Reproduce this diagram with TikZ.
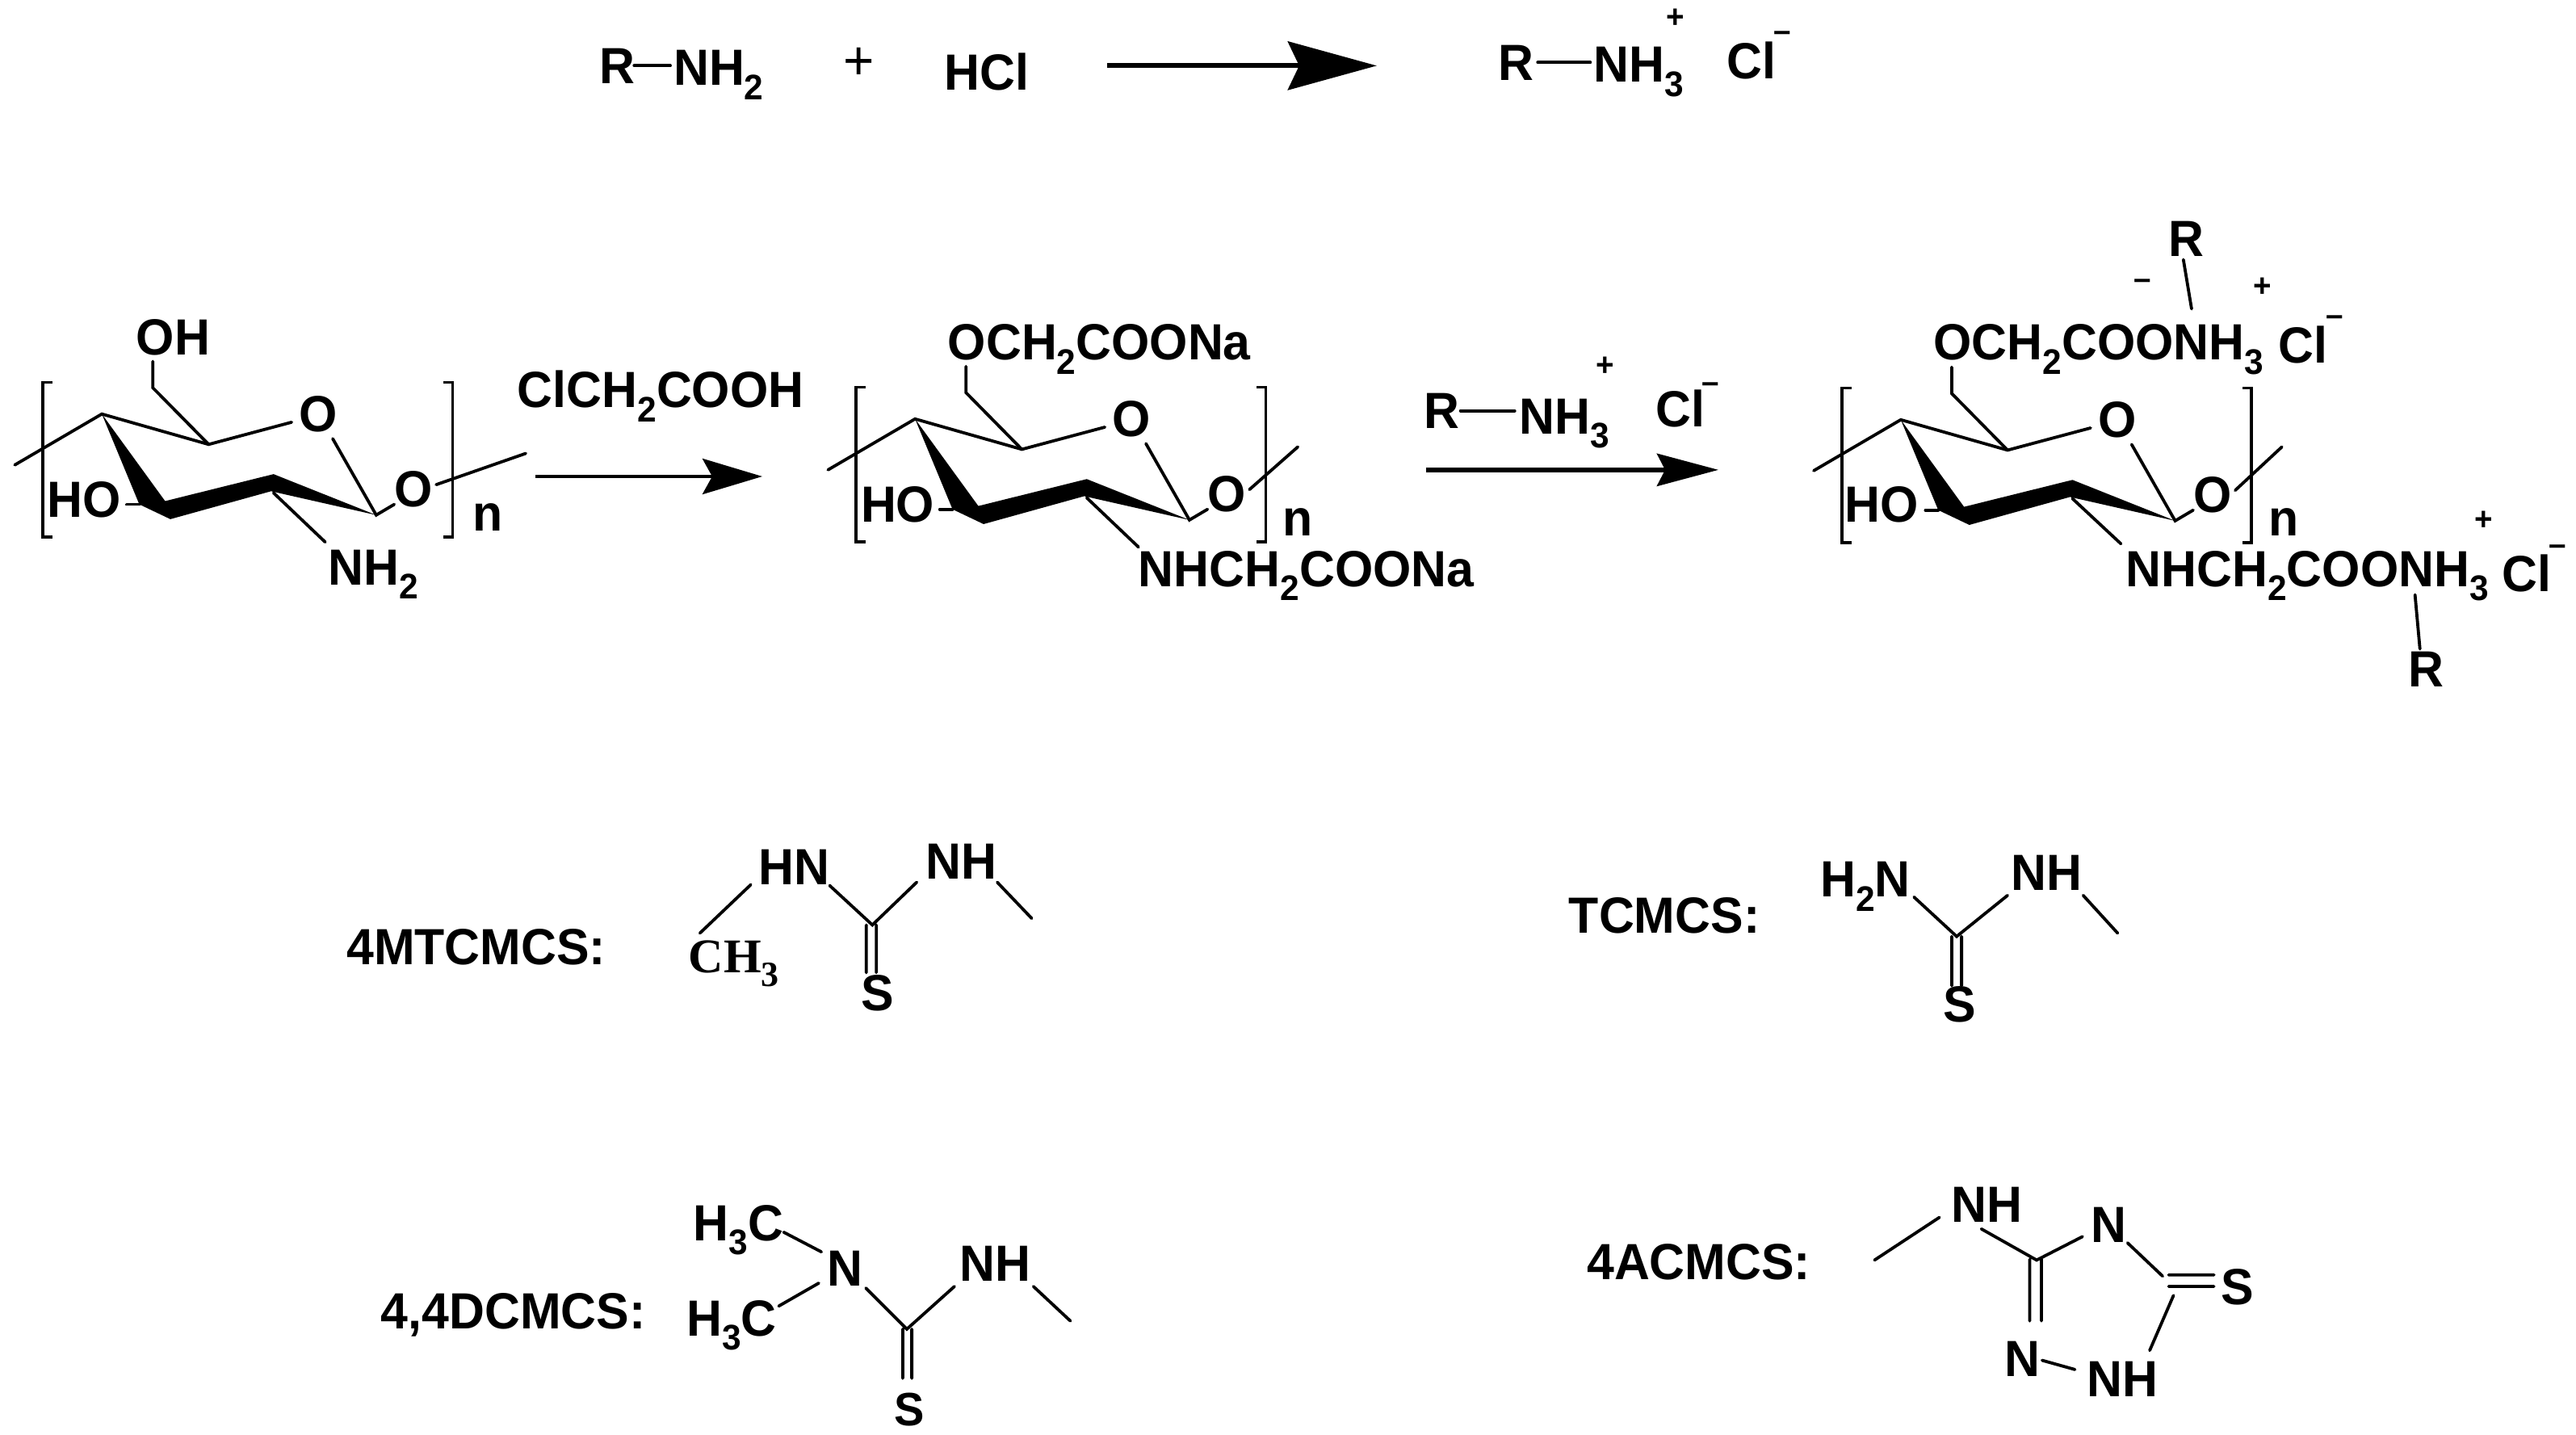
\documentclass[tikz,border=0pt]{standalone}
\usepackage{fontspec}
\setmainfont{Liberation Sans}[FakeStretch=0.965]
\newfontfamily\serifchem{Liberation Serif}
\usetikzlibrary{arrows.meta}
\newcommand\lsub[1]{\raisebox{-0.28em}{\fontsize{22}{22}\selectfont #1}}
\tikzset{
  bond/.style={line width=1.9pt,line cap=round,black},
  bracket/.style={line width=1.9pt,black},
  chem/.style={inner sep=0pt,outer sep=0pt,anchor=base west,font=\fontsize{31.5}{31.5}\selectfont\bfseries},
  charge/.style={inner sep=0pt,outer sep=0pt,font=\fontsize{20}{20}\selectfont\bfseries},
  bigarrow/.style={line width=3pt,-{Stealth[length=55pt,width=30pt,inset=7pt]}},
  midarrow/.style={line width=3pt,-{Stealth[length=38pt,width=20pt,inset=5pt]}},
  smallarrow/.style={line width=2.4pt,-{Stealth[length=37pt,width=22pt,inset=6pt]}},
}
% ring: #1 prefix, #2 dx, #3 dy, #4 right stub end
\newcommand\sugar[4]{%
  \begin{scope}[shift={(#2,#3)}]
    \coordinate (#1a) at (62,252);
    \coordinate (#1s) at (9,283);
    \coordinate (#1b) at (127,270.5);
    \coordinate (#1c) at (93,236);
    \coordinate (#1ct) at (93,220);
    \coordinate (#1ot) at (177.5,257);
    \coordinate (#1or) at (202.5,267);
    \coordinate (#1d) at (229,313.5);
    \coordinate (#1oa) at (240,307);
    \coordinate (#1ob) at (265.5,295);
    \coordinate (#1e) at (100.5,305);
    \coordinate (#1f) at (166.5,288.6);
    \coordinate (#1g) at (165,299);
    \coordinate (#1h) at (103.7,316);
    \coordinate (#1i) at (84.8,307);
    \coordinate (#1ho) at (77,307);
    \fill (#1a) -- (#1e) -- (#1f) -- (#1d) -- (#1g) -- (#1h) -- (#1i) -- cycle;
    \draw[bond] (#1s) -- (#1a) -- (#1b) -- (#1ot);
    \draw[bond] (#1b) -- (#1c) -- (#1ct);
    \draw[bond] (#1or) -- (#1d) -- (#1oa);
    \draw[bond] (#1ho) -- (#1i);
    \draw[bracket] (32,232.7) -- (26,232.7) -- (26,327) -- (32,327);
    \draw[bracket] (270,232.7) -- (275.5,232.7) -- (275.5,327) -- (270,327);
    \node[chem] (#1O) at (182,262.5) {O};
    \node[chem] (#1Ob) at (240,308.5) {O};
  \end{scope}
  \coordinate (#1out) at #4;
  \draw[bond] (#1ob) -- (#1out);
}
\begin{document}
\begin{tikzpicture}[x=1.0172pt,y=-1.0172pt]
\useasboundingbox (0,0) rectangle (1568,873.4);
% ---- top row
\node[chem] (r1) at (365,51) {R};
\node[chem] (nh2top) at (410,52) {NH\lsub{2}};
\coordinate (t1a) at (386,40); \coordinate (t1b) at (408,40);
\draw[bond] (t1a) -- (t1b);
\node[inner sep=0pt,font=\fontsize{34}{34}\selectfont] (plus) at (523,39) {+};
\node[chem] (hcl) at (575,55) {HCl};
\coordinate (a1s) at (674,40); \coordinate (a1e) at (838,40);
\draw[bigarrow] (a1s) -- (a1e);
\node[chem] (r2) at (912,49) {R};
\node[chem] (nh3top) at (970,50) {NH\lsub{3}};
\coordinate (t2a) at (936,38); \coordinate (t2b) at (968,38);
\draw[bond] (t2a) -- (t2b);
\node[charge] (p1) at (1020,11) {+};
\node[chem] (cl1) at (1051,48) {Cl};
\node[charge] (m1) at (1085,22) {--};
% ---- sugar rings
\sugar{A}{0}{0}{(320,276)}
\sugar{B}{495}{3}{(790,272)}
\sugar{C}{1095}{3.5}{(1389,272)}
% first
\node[chem] (oh) at (83,216) {OH};
\node[chem] (ho1) at (29,315) {HO};
\node[chem] (nh2) at (200,356) {NH\lsub{2}};
\coordinate (An) at (166.5,300); \coordinate (Ann) at (198,330);
\draw[bond] (An) -- (Ann);
\node[chem] (n1) at (288,323) {n};
\node[chem] (cl2) at (315,248) {ClCH\lsub{2}COOH};
\coordinate (a2s) at (326,290); \coordinate (a2e) at (464,290);
\draw[smallarrow] (a2s) -- (a2e);
% second
\node[chem] (ho2) at (524,318) {HO};
\node[chem] (och2) at (577,219) {OCH\lsub{2}COONa};
\node[chem] (nhch2) at (693,357) {NHCH\lsub{2}COONa};
\coordinate (Bn) at (661.5,303); \coordinate (Bnn) at (693,333);
\draw[bond] (Bn) -- (Bnn);
\node[chem] (n2) at (781,326) {n};
% middle arrow
\node[chem] (r3) at (867,261) {R};
\node[chem] (nh3m) at (925,264) {NH\lsub{3}};
\coordinate (t3a) at (889,250); \coordinate (t3b) at (922,250);
\draw[bond] (t3a) -- (t3b);
\node[charge] (p2) at (977,223) {+};
\node[chem] (cl3) at (1008,260) {Cl};
\node[charge] (m2) at (1041,236) {--};
\coordinate (a3s) at (868,286); \coordinate (a3e) at (1046,286);
\draw[midarrow] (a3s) -- (a3e);
% third
\node[chem] (ho3) at (1123,318) {HO};
\node[chem] (och3) at (1177,219) {OCH\lsub{2}COONH\lsub{3}};
\node[chem] (clc1) at (1387,221) {Cl};
\node[charge] (mc1) at (1421,195) {--};
\node[charge] (mc0) at (1304,173) {--};
\node[charge] (pc1) at (1377,175) {+};
\node[chem] (Rc1) at (1320,156) {R};
\coordinate (Rc1b) at (1329,158); \coordinate (Rc1n) at (1334,188);
\draw[bond] (Rc1b) -- (Rc1n);
\node[chem] (nhch3) at (1294,357) {NHCH\lsub{2}COONH\lsub{3}};
\node[chem] (clc2) at (1523,360) {Cl};
\node[charge] (mc2) at (1557,335) {--};
\node[charge] (pc2) at (1512,317) {+};
\coordinate (Cn) at (1261.5,303.5); \coordinate (Cnn) at (1291,331);
\draw[bond] (Cn) -- (Cnn);
\coordinate (Rc2n) at (1470,362); \coordinate (Rc2b) at (1473,395);
\draw[bond] (Rc2n) -- (Rc2b);
\node[chem] (Rc2) at (1466,418) {R};
\node[chem] (n3) at (1381,326) {n};
% ---- 4MTCMCS
\node[chem] at (211,587) (l1) {4MTCMCS:};
\node[chem] (hn4) at (462,538.5) {HN};
\node[chem] (nh4) at (563.7,535) {NH};
\node[inner sep=0pt,anchor=base west,font=\fontsize{30}{30}\selectfont\serifchem\bfseries] (ch3) at (419,592) {CH\lsub{3}};
\node[chem] (s4) at (524,615) {S};
\coordinate (p4a) at (426,568); \coordinate (p4b) at (457,538.5);
\coordinate (p4c) at (505,539); \coordinate (p4d) at (531,563);
\coordinate (p4e) at (558,537); \coordinate (p4f) at (607,537); \coordinate (p4g) at (628,559);
\coordinate (p4h) at (527.3,563); \coordinate (p4i) at (527.3,592);
\coordinate (p4j) at (533.4,563); \coordinate (p4k) at (533.4,592);
\draw[bond] (p4a) -- (p4b) (p4c) -- (p4d) -- (p4e) (p4f) -- (p4g) (p4h) -- (p4i) (p4j) -- (p4k);
% ---- TCMCS
\node[chem] (l2) at (955,568) {TCMCS:};
\node[chem] (h2n) at (1108,546) {H\lsub{2}N};
\node[chem] (nh5) at (1224,542) {NH};
\node[chem] (s5) at (1183,622) {S};
\coordinate (p5a) at (1165,546); \coordinate (p5b) at (1191,570);
\coordinate (p5c) at (1222,545); \coordinate (p5d) at (1268,545); \coordinate (p5e) at (1289,568);
\coordinate (p5f) at (1188,570); \coordinate (p5g) at (1188,600);
\coordinate (p5h) at (1194,570); \coordinate (p5i) at (1194,600);
\draw[bond] (p5a) -- (p5b) -- (p5c) (p5d) -- (p5e) (p5f) -- (p5g) (p5h) -- (p5i);
% ---- 4,4DCMCS
\node[chem] (l3) at (232,809) {4,4DCMCS:};
\node[chem] (h3c1) at (422,755) {H\lsub{3}C};
\node[chem] (h3c2) at (418,813) {H\lsub{3}C};
\node[chem] (n6) at (503.5,782.7) {N};
\node[chem] (nh6) at (584,780) {NH};
\node[chem,font=\fontsize{29}{29}\selectfont\bfseries] (s6) at (544.5,867.8) {S};
\coordinate (p6a) at (477,750); \coordinate (p6b) at (500,762);
\coordinate (p6c) at (474,795); \coordinate (p6d) at (498.4,781);
\coordinate (p6e) at (527,784); \coordinate (p6f) at (552,809); \coordinate (p6g) at (581,783);
\coordinate (p6h) at (629,783); \coordinate (p6i) at (651.5,804);
\coordinate (p6j) at (549.5,809); \coordinate (p6k) at (549.5,839);
\coordinate (p6l) at (555,809); \coordinate (p6m) at (555,839);
\draw[bond] (p6a) -- (p6b) (p6c) -- (p6d) (p6e) -- (p6f) -- (p6g) (p6h) -- (p6i) (p6j) -- (p6k) (p6l) -- (p6m);
% ---- 4ACMCS
\node[chem] (l4) at (966,779) {4ACMCS:};
\node[chem] (nh7) at (1188,744) {NH};
\node[chem] (n7) at (1272.7,756) {N};
\node[chem] (s7) at (1352,794) {S};
\node[chem] (n8) at (1220,837.6) {N};
\node[chem] (nh8) at (1270.6,850) {NH};
\coordinate (p7a) at (1141,767); \coordinate (p7b) at (1180.5,741);
\coordinate (p7c) at (1206,748); \coordinate (p7d) at (1239.7,767); \coordinate (p7e) at (1267.6,752.7);
\coordinate (p7f) at (1295,756.5); \coordinate (p7g) at (1316.4,776.8);
\coordinate (p7h) at (1320,776); \coordinate (p7i) at (1347.6,776);
\coordinate (p7j) at (1320,783); \coordinate (p7k) at (1347.6,783);
\coordinate (p7l) at (1323,788.5); \coordinate (p7m) at (1308.5,822);
\coordinate (p7n) at (1243,828); \coordinate (p7o) at (1263,833.6);
\coordinate (p7p) at (1235.5,766.5); \coordinate (p7q) at (1235.5,804);
\coordinate (p7r) at (1242.6,766.5); \coordinate (p7s) at (1242.6,804);
\draw[bond] (p7a) -- (p7b) (p7c) -- (p7d) -- (p7e) (p7f) -- (p7g) (p7h) -- (p7i) (p7j) -- (p7k) (p7l) -- (p7m) (p7n) -- (p7o) (p7p) -- (p7q) (p7r) -- (p7s);
\end{tikzpicture}
\end{document}
